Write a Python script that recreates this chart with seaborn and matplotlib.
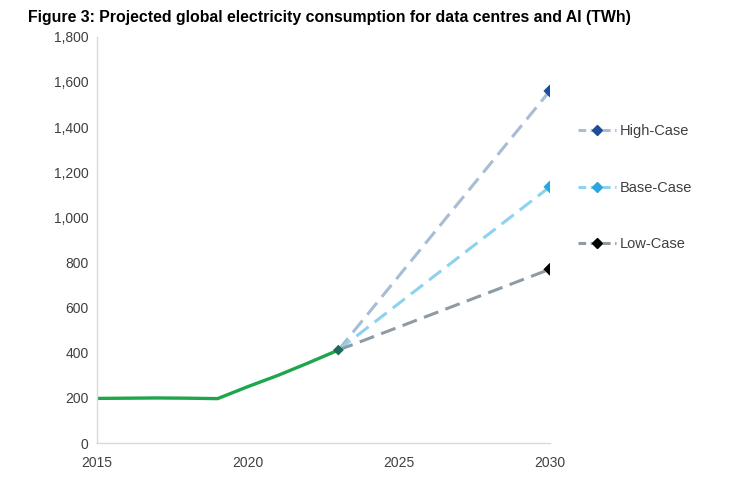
import pandas as pd
import matplotlib.pyplot as plt
import seaborn as sns
from matplotlib.lines import Line2D
from matplotlib.ticker import FuncFormatter

# -- data
hist_years = [2015, 2016, 2017, 2018, 2019, 2020, 2021, 2022, 2023]
hist_twh = [198, 199, 200, 199, 197, 250, 300, 355, 412]

scenarios = ["High-Case", "Base-Case", "Low-Case"]
proj_years = [2023, 2030]
high_twh = [412, 1560]
base_twh = [412, 1135]
low_twh = [412, 770]

line_colors = {"High-Case": "#A8BCD4", "Base-Case": "#8DD2EE", "Low-Case": "#8E9BA4"}
marker_colors = {"High-Case": "#1F4E99", "Base-Case": "#2AA7DF", "Low-Case": "#000000"}

hist = pd.DataFrame({"Year": hist_years, "TWh": hist_twh})
proj = pd.concat([
    pd.DataFrame({"Year": proj_years, "TWh": vals, "Scenario": name})
    for name, vals in zip(scenarios, [high_twh, base_twh, low_twh])
], ignore_index=True)

sns.set_theme(style="white")
plt.rcParams["font.family"] = ["Liberation Sans", "DejaVu Sans"]

fig = plt.figure(figsize=(7.5, 4.78), dpi=100)
ax = fig.add_axes([0.129, 0.073, 0.604, 0.850])

# projections (dashed)
sns.lineplot(data=proj, x="Year", y="TWh", hue="Scenario", palette=line_colors,
             linewidth=2.2, ax=ax, legend=False)
for line in ax.lines:
    line.set_dashes([5, 2.5])

# historical (solid green)
sns.lineplot(data=hist, x="Year", y="TWh", color="#1DA64B", linewidth=2.4, ax=ax)

# end markers
end = proj[proj["Year"] == 2030]
sns.scatterplot(data=end, x="Year", y="TWh", hue="Scenario", palette=marker_colors,
                marker="D", s=42, edgecolor="none", ax=ax, legend=False, zorder=5)
start = hist[hist["Year"] == 2023]
sns.scatterplot(data=start, x="Year", y="TWh", color="#1E6B5E", marker="D", s=30,
                edgecolor="none", ax=ax, legend=False, zorder=5)

ax.set_xlim(2015, 2030)
ax.set_ylim(0, 1800)
ax.set_xticks([2015, 2020, 2025, 2030])
ax.set_yticks(range(0, 1801, 200))
ax.yaxis.set_major_formatter(FuncFormatter(lambda v, p: f"{int(v):,}"))
ax.set_xlabel("")
ax.set_ylabel("")
ax.tick_params(axis="both", length=0, labelsize=10, labelcolor="#404040")
ax.tick_params(axis="y", pad=6)
ax.tick_params(axis="x", pad=9.5)
for side in ["top", "right"]:
    ax.spines[side].set_visible(False)
for side in ["left", "bottom"]:
    ax.spines[side].set_color("#D9D9D9")
    ax.spines[side].set_linewidth(1)

handles = [Line2D([0], [0], color=line_colors[s], linestyle=(0, (2.5, 1.5)), linewidth=2.2,
                  marker="D", markersize=5.5, markerfacecolor=marker_colors[s],
                  markeredgecolor=marker_colors[s]) for s in scenarios]
fig.legend(handles, scenarios, loc="upper left", bbox_to_anchor=(0.753, 0.767),
           frameon=False, fontsize=10.5, labelspacing=2.9, handlelength=2.6,
           handletextpad=0.3, labelcolor="#404040")

fig.text(0.037, 0.955, "Figure 3: Projected global electricity consumption for data centres and AI (TWh)",
         fontsize=11.4, fontweight="bold", color="#000000")

plt.savefig("out.png", dpi=100)
